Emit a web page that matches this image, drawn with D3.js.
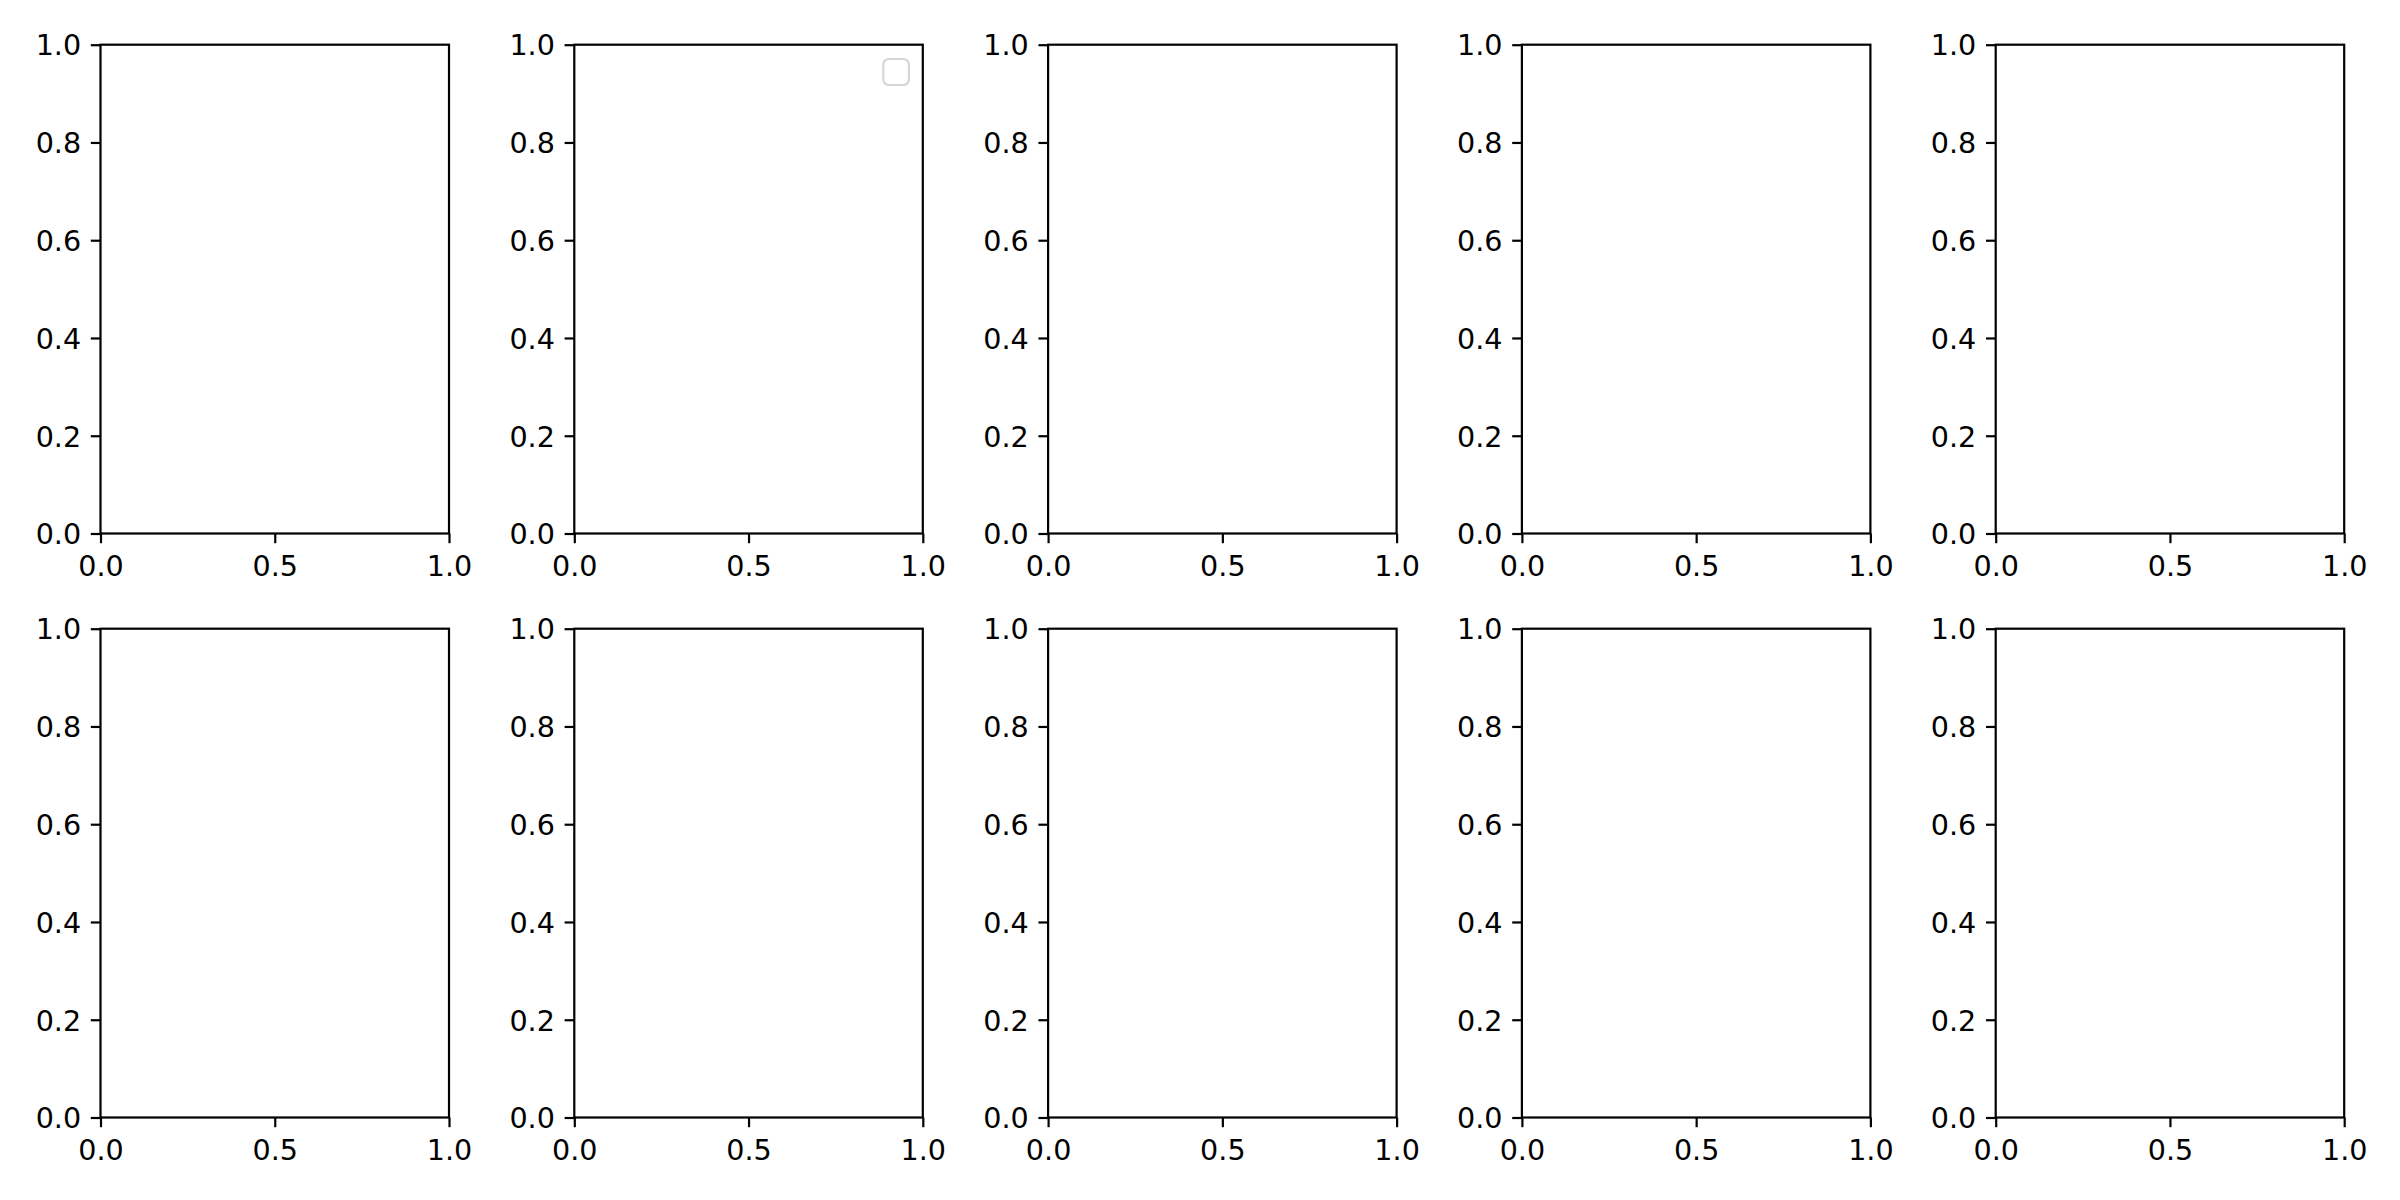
<!DOCTYPE html>
<html>
<head>
<meta charset="utf-8">
<script src="https://cdn.jsdelivr.net/npm/d3@7"></script>
<style>
  html, body { margin: 0; padding: 0; background: #fff; }
  svg { display: block; }
  text { font-family: "DejaVu Sans", sans-serif; }
</style>
</head>
<body>
<svg id="chart" width="2400" height="1200"></svg>
<script>
// ---- data ----
const nRows = 2;
const nCols = 5;
const xDomain = [0, 1];
const yDomain = [0, 1];
const xTicks = [0, 0.5, 1.0];
const yTicks = [0, 0.2, 0.4, 0.6, 0.8, 1.0];
const legendPanel = 1;          // index of the panel carrying the (empty) legend
const legendEntries = [];       // legend has no entries

// ---- layout ----
const W = 2400, H = 1200;
const left0 = 100.5, panelW = 348.5, stepX = 473.8;
const top0 = 44.7, panelH = 488.8, stepY = 584.0;
const lw = 2.2, tickLen = 9.7, pad = 9.7, fontPx = 28.6;

const svg = d3.select("#chart");
svg.append("rect").attr("width", W).attr("height", H).attr("fill", "#fff");

for (let r = 0; r < nRows; r++) {
  for (let c = 0; c < nCols; c++) {
    const idx = r * nCols + c;
    const x0 = left0 + c * stepX;
    const y0 = top0 + r * stepY;
    const xs = d3.scaleLinear().domain(xDomain).range([0, panelW]);
    const ys = d3.scaleLinear().domain(yDomain).range([panelH, 0]);
    const g = svg.append("g").attr("transform", `translate(${x0},${y0})`);

    const xAxis = d3.axisBottom(xs).tickValues(xTicks).tickFormat(d3.format(".1f"))
      .tickSize(tickLen).tickSizeOuter(0).tickPadding(pad);
    const yAxis = d3.axisLeft(ys).tickValues(yTicks).tickFormat(d3.format(".1f"))
      .tickSize(tickLen).tickSizeOuter(0).tickPadding(pad);

    const gx = g.append("g").attr("transform", `translate(0,${panelH})`).call(xAxis);
    const gy = g.append("g").call(yAxis);
    [gx, gy].forEach(ax => {
      ax.select(".domain").remove();
      ax.selectAll(".tick line").attr("stroke", "#000").attr("stroke-width", lw);
      ax.selectAll(".tick text").attr("fill", "#000")
        .style("font-size", fontPx + "px")
        .style("font-family", "'DejaVu Sans', sans-serif");
    });
    gx.selectAll(".tick text").attr("dy", "0.81em");
    gy.selectAll(".tick text").attr("dy", "0.36em");

    // frame (spines)
    g.append("rect")
      .attr("x", 0).attr("y", 0)
      .attr("width", panelW).attr("height", panelH)
      .attr("fill", "none").attr("stroke", "#000").attr("stroke-width", lw);

    if (idx === legendPanel) {
      const bw = 25.6, bh = 26;
      const lg = g.append("g")
        .attr("transform", `translate(${panelW - 13.9 - bw},${13.9 + 0.4})`);
      lg.append("rect")
        .attr("width", bw).attr("height", bh)
        .attr("rx", 5.5).attr("ry", 5.5)
        .attr("fill", "#fff").attr("fill-opacity", 0.8)
        .attr("stroke", "#d6d6d6").attr("stroke-width", 2.2);
      lg.selectAll("text.entry").data(legendEntries).join("text")
        .attr("class", "entry").text(d => d);
    }
  }
}
</script>
</body>
</html>
